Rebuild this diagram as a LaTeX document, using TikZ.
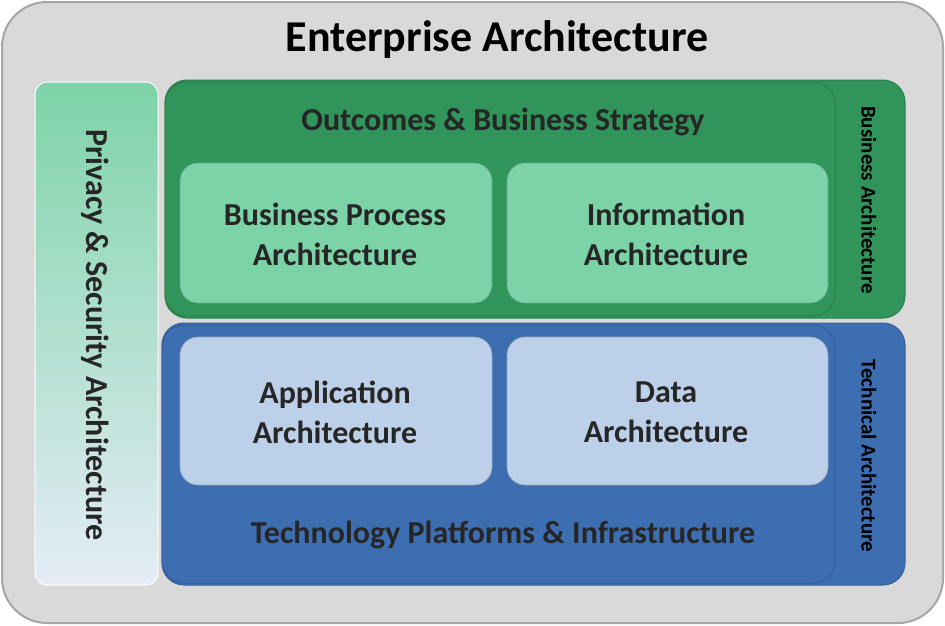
\documentclass[tikz,border=0pt]{standalone}
\usepackage{fontspec}
\setmainfont{Carlito}
\definecolor{outerg}{HTML}{D9D9D9}
\definecolor{outerb}{HTML}{A6A6A6}
\definecolor{grn}{HTML}{31945A}
\definecolor{grnd}{HTML}{2A7F4C}
\definecolor{grnl}{HTML}{7DD3A8}
\definecolor{blu}{HTML}{3E6EB2}
\definecolor{blud}{HTML}{345E9A}
\definecolor{blul}{HTML}{BDD0E9}
\definecolor{txt}{HTML}{262626}
\begin{document}
\begin{tikzpicture}[x=1pt,y=-1pt,
  lbl/.style={font=\bfseries\fontsize{32}{40}\selectfont, text=txt, align=center},
  side/.style={font=\bfseries\fontsize{21}{24}\selectfont, text=black, rotate=-90},
  inbox/.style={rounded corners=18pt, draw=#1!80!black, line width=0.6pt}]
\useasboundingbox (0,0) rectangle (945,625);
% outer
\draw[fill=outerg, draw=outerb, line width=2pt, rounded corners=45pt] (2,2) rectangle (943,623);
\node[font=\bfseries\fontsize{44}{50}\selectfont, text=black] (title) at (497,40) {Enterprise Architecture};
% privacy bar
\shade[top color=grnl, bottom color=blul!40, rounded corners=12pt] (35,82) rectangle (158,585);
\draw[draw=white, line width=1pt, rounded corners=12pt] (35,82) rectangle (158,585);
\node[lbl, rotate=-90] (priv) at (95,335) {Privacy \& Security Architecture};
% green
\draw[fill=grn, draw=grnd, line width=1pt, rounded corners=22pt] (165,80) rectangle (905,318);
\draw[fill=grn, draw=grnd, line width=1pt, rounded corners=22pt] (165,82) rectangle (835,316);
\node[side] (ba) at (869,200) {Business Architecture};
\node[lbl] (obs) at (503,122) {Outcomes \& Business Strategy};
\draw[fill=grnl, inbox=grnl] (180,163) rectangle (492,303);
\draw[fill=grnl, inbox=grnl] (507,163) rectangle (828,303);
\node[lbl] (bpa) at (335,234) {Business Process\\Architecture};
\node[lbl] (ia) at (666,234) {Information\\Architecture};
% blue
\draw[fill=blu, draw=blud, line width=1pt, rounded corners=22pt] (162,323) rectangle (905,585);
\draw[fill=blu, draw=blud, line width=1pt, rounded corners=22pt] (162,325) rectangle (835,583);
\node[side] (ta) at (869,456) {Technical Architecture};
\draw[fill=blul, inbox=blul] (180,337) rectangle (492,485);
\draw[fill=blul, inbox=blul] (507,337) rectangle (828,485);
\node[lbl] (aa) at (335,412) {Application\\Architecture};
\node[lbl] (da) at (666,412) {Data\\Architecture};
\node[lbl] (tpi) at (503,535) {Technology Platforms \& Infrastructure};
\end{tikzpicture}
\end{document}
